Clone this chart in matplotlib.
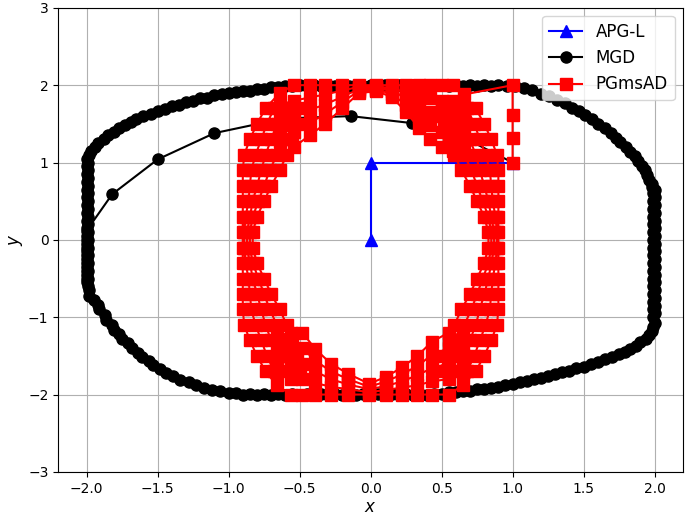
import matplotlib
matplotlib.use("Agg")
import matplotlib.pyplot as plt

# APG-L path
apg_x = [0.0, 0.0, 1.0]
apg_y = [0.0, 1.0, 1.0]

# MGD path: approach from the start point, then two laps along the boundary
mgd_x = [1.0, 0.69, 0.29, -0.14, -0.61, -1.10, -1.50, -1.82, -2.0,
         # lap 1
         -2.0, -2.0, -2.0, -2.0, -2.0, -2.0,
         -1.98, -1.95, -1.91, -1.86, -1.81, -1.75, -1.68, -1.61, -1.53, -1.44, -1.34, -1.23, -1.12, -1.0,
         -0.9, -0.8, -0.7, -0.6, -0.5, -0.4, -0.3, -0.2, -0.1, 0.0, 0.1, 0.2, 0.3, 0.4,
         0.5, 0.6, 0.7, 0.8, 0.9, 1.0, 1.1, 1.2, 1.3, 1.4, 1.5, 1.6, 1.7, 1.79, 1.87, 1.94, 1.98, 2.0,
         2.0, 2.0, 2.0, 2.0, 2.0, 2.0, 2.0, 2.0, 2.0, 2.0, 2.0, 2.0, 2.0, 2.0, 2.0, 2.0, 2.0,
         1.98, 1.95, 1.91, 1.86, 1.8, 1.73, 1.65, 1.56, 1.47, 1.37, 1.26, 1.14, 1.02,
         0.9, 0.8, 0.7, 0.6, 0.5, 0.4, 0.3, 0.2, 0.1, 0.0, -0.1, -0.2, -0.3, -0.4, -0.5,
         -0.6, -0.7, -0.8, -0.9, -1.0, -1.1, -1.2, -1.3, -1.4, -1.5, -1.6, -1.69, -1.77, -1.85, -1.92, -1.97, -2.0,
         -2.0, -2.0, -2.0, -2.0, -2.0, -2.0, -2.0, -2.0, -2.0, -2.0, -2.0, -2.0, -2.0, -2.0, -2.0, -2.0,
         # lap 2
         -1.98, -1.92, -1.87, -1.82, -1.77, -1.71, -1.64, -1.56, -1.48, -1.39, -1.28, -1.17, -1.06, -0.95,
         -0.85, -0.75, -0.65, -0.55, -0.45, -0.35, -0.25, -0.15, -0.05, 0.05, 0.15, 0.25, 0.35, 0.45,
         0.55, 0.65, 0.75, 0.85, 0.95, 1.05, 1.15, 1.25, 1.35, 1.45, 1.55, 1.65, 1.75, 1.83, 1.9, 1.96, 1.99,
         1.99, 1.99, 1.99, 1.99, 1.99, 1.99, 1.99, 1.99, 1.99, 1.99, 1.99, 1.99, 1.99, 1.99, 1.99, 1.99, 1.99,
         1.98, 1.96, 1.93, 1.88, 1.83, 1.76, 1.69, 1.6, 1.51, 1.42, 1.31, 1.2, 1.08, 0.96,
         0.85, 0.75, 0.65, 0.55, 0.45, 0.35, 0.25, 0.15, 0.05, -0.05, -0.15, -0.25, -0.35, -0.45, -0.55,
         -0.65, -0.75, -0.85, -0.95, -1.05, -1.15, -1.25, -1.35, -1.45, -1.55, -1.65, -1.73, -1.81, -1.88, -1.94, -1.98,
         -1.99, -1.99, -1.99, -1.99, -1.99, -1.99, -1.99, -1.99, -1.99, -1.99, -1.99, -1.99, -1.99, -1.99, -1.99, -1.99, -1.99]
mgd_y = [1.0, 1.29, 1.51, 1.6, 1.57, 1.38, 1.04, 0.59, 0.12,
         # lap 1
         0.0, -0.1, -0.2, -0.3, -0.4, -0.5,
         -0.65, -0.78, -0.9, -1.03, -1.16, -1.28, -1.4, -1.52, -1.62, -1.72, -1.81, -1.88, -1.94, -1.98,
         -2.0, -2.0, -2.0, -2.0, -2.0, -2.0, -2.0, -2.0, -2.0, -2.0, -2.0, -2.0, -2.0, -2.0,
         -1.99, -1.97, -1.95, -1.93, -1.9, -1.87, -1.83, -1.79, -1.74, -1.69, -1.64, -1.58, -1.52, -1.45, -1.37, -1.28, -1.18, -1.08,
         -0.95, -0.85, -0.75, -0.65, -0.55, -0.45, -0.35, -0.25, -0.15, -0.05, 0.05, 0.15, 0.25, 0.35, 0.45, 0.55, 0.65,
         0.72, 0.84, 0.96, 1.08, 1.2, 1.32, 1.44, 1.56, 1.67, 1.77, 1.86, 1.94, 1.99,
         2.0, 2.0, 2.0, 2.0, 2.0, 2.0, 2.0, 2.0, 2.0, 2.0, 2.0, 2.0, 2.0, 2.0, 2.0,
         1.99, 1.97, 1.95, 1.93, 1.9, 1.87, 1.83, 1.78, 1.73, 1.67, 1.6, 1.52, 1.44, 1.35, 1.25, 1.15, 1.05,
         0.95, 0.85, 0.75, 0.65, 0.55, 0.45, 0.35, 0.25, 0.15, 0.05, -0.05, -0.15, -0.25, -0.35, -0.45, -0.55,
         # lap 2
         -0.72, -0.84, -0.97, -1.10, -1.22, -1.34, -1.46, -1.57, -1.67, -1.76, -1.84, -1.91, -1.95, -1.98,
         -1.99, -1.99, -1.99, -1.99, -1.99, -1.99, -1.99, -1.99, -1.99, -1.99, -1.99, -1.99, -1.99, -1.99,
         -1.97, -1.95, -1.93, -1.91, -1.88, -1.84, -1.8, -1.76, -1.71, -1.66, -1.6, -1.54, -1.48, -1.41, -1.32, -1.23, -1.13,
         -1.0, -0.9, -0.8, -0.7, -0.6, -0.5, -0.4, -0.3, -0.2, -0.1, 0.0, 0.1, 0.2, 0.3, 0.4, 0.5, 0.6,
         0.68, 0.78, 0.9, 1.02, 1.14, 1.26, 1.38, 1.5, 1.61, 1.71, 1.81, 1.89, 1.96, 1.99,
         1.99, 1.99, 1.99, 1.99, 1.99, 1.99, 1.99, 1.99, 1.99, 1.99, 1.99, 1.99, 1.99, 1.99, 1.99,
         1.97, 1.95, 1.93, 1.91, 1.88, 1.84, 1.8, 1.75, 1.69, 1.63, 1.56, 1.48, 1.39, 1.3, 1.2, 1.1,
         1.0, 0.9, 0.8, 0.7, 0.6, 0.5, 0.4, 0.3, 0.2, 0.1, 0.0, -0.1, -0.2, -0.3, -0.4, -0.5, -0.6]

# PGmsAD path: start segment, then five loops (outer -> inner)
pg_start_x = [1.0, 1.0, 1.0, 1.0]
pg_start_y = [1.0, 1.32, 1.62, 2.0]

# top part of each loop, right to left
top_x = [0.66, 0.58, 0.5, 0.42, 0.34, 0.25, 0.15, 0.04, -0.08, -0.2, -0.32, -0.43, -0.54, -0.64]
top_y = [
    [1.88, 2.0, 2.0, 2.0, 2.0, 2.0, 2.0, 2.0, 2.0, 2.0, 2.0, 2.0, 2.0, 1.9],
    [1.72, 1.79, 1.8, 1.83, 1.86, 1.91, 1.96, 1.98, 1.98, 1.93, 1.88, 1.84, 1.8, 1.74],
    [1.56, 1.58, 1.6, 1.65, 1.73, 1.83, 1.93, 1.96, 1.95, 1.85, 1.75, 1.68, 1.6, 1.58],
    [1.4, 1.36, 1.4, 1.48, 1.59, 1.74, 1.89, 1.94, 1.93, 1.78, 1.63, 1.51, 1.4, 1.42],
    [1.24, 1.15, 1.2, 1.3, 1.45, 1.65, 1.85, 1.92, 1.9, 1.7, 1.5, 1.35, 1.2, 1.26],
]

# sides, rows from top to bottom, |x| per loop
side_y = [1.7, 1.5, 1.3, 1.1, 0.9, 0.7, 0.5, 0.3, 0.1,
          -0.1, -0.3, -0.5, -0.7, -0.9, -1.1, -1.3, -1.5, -1.7]
side_x = [
    [0.74, 0.80, 0.85, 0.89, 0.90, 0.90, 0.90, 0.90, 0.90, 0.90, 0.90, 0.90, 0.90, 0.90, 0.89, 0.85, 0.80, 0.74],
    [0.68, 0.73, 0.77, 0.81, 0.84, 0.85, 0.86, 0.88, 0.89, 0.89, 0.88, 0.86, 0.85, 0.84, 0.81, 0.77, 0.73, 0.68],
    [0.62, 0.66, 0.70, 0.74, 0.77, 0.80, 0.83, 0.85, 0.87, 0.87, 0.85, 0.83, 0.80, 0.77, 0.74, 0.70, 0.66, 0.62],
    [0.56, 0.59, 0.62, 0.66, 0.71, 0.75, 0.79, 0.83, 0.85, 0.85, 0.83, 0.79, 0.75, 0.71, 0.66, 0.62, 0.59, 0.56],
    [0.50, 0.52, 0.55, 0.59, 0.64, 0.70, 0.75, 0.80, 0.83, 0.83, 0.80, 0.75, 0.70, 0.64, 0.59, 0.55, 0.52, 0.50],
]

# bottom part of each loop, left to right
bot_x = [-0.66, -0.56, -0.48, -0.39, -0.28, -0.16, -0.01, 0.11, 0.22, 0.33, 0.43, 0.55, 0.65]
bot_y = [
    [-1.88, -2.0, -2.0, -2.0, -2.0, -2.0, -2.0, -2.0, -2.0, -2.0, -2.0, -2.0, -1.88],
    [-1.72, -1.8, -1.8, -1.85, -1.9, -1.93, -1.97, -1.94, -1.91, -1.88, -1.83, -1.8, -1.72],
    [-1.56, -1.6, -1.6, -1.7, -1.8, -1.87, -1.93, -1.89, -1.83, -1.75, -1.66, -1.6, -1.56],
    [-1.4, -1.4, -1.4, -1.56, -1.7, -1.8, -1.9, -1.83, -1.74, -1.63, -1.49, -1.4, -1.4],
    [-1.24, -1.2, -1.2, -1.41, -1.6, -1.73, -1.86, -1.77, -1.65, -1.5, -1.32, -1.2, -1.24],
]

pg_x = list(pg_start_x)
pg_y = list(pg_start_y)
for r in range(len(top_y)):
    pg_x += top_x
    pg_y += top_y[r]
    pg_x += [-v for v in side_x[r]]
    pg_y += side_y
    pg_x += bot_x
    pg_y += bot_y[r]
    pg_x += side_x[r][::-1]
    pg_y += side_y[::-1]

fig, ax = plt.subplots(figsize=(6.85, 5.22), dpi=100)
fig.subplots_adjust(left=0.085, right=0.997, bottom=0.096, top=0.985)

ax.plot(apg_x, apg_y, 'b-^', markersize=8, label='APG-L')
ax.plot(mgd_x, mgd_y, 'k-o', markersize=8, label='MGD')
ax.plot(pg_x, pg_y, 'r-s', markersize=8.5, label='PGmsAD')

ax.set_ylim(-3, 3)
ax.set_xlabel('$x$', fontsize=12, labelpad=2)
ax.set_ylabel('$y$', fontsize=12, labelpad=2)
ax.grid(True)
ax.legend(loc='upper right', fontsize=12)

fig.savefig('out.png', dpi=100)
